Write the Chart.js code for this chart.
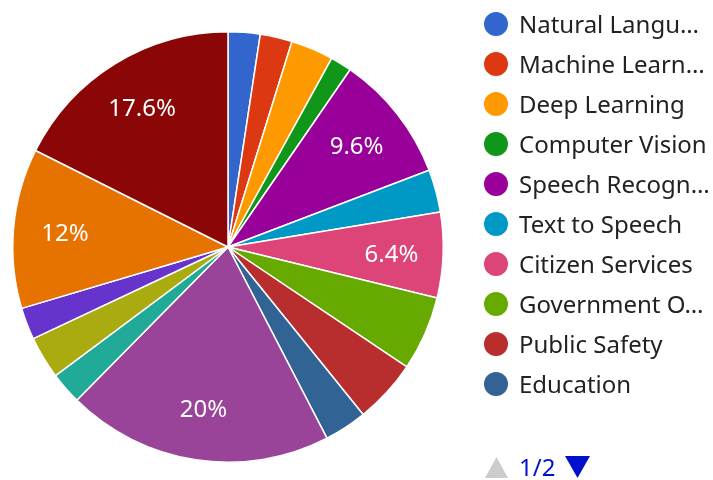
<!DOCTYPE html>
<html><head><meta charset="utf-8">
<script src="https://cdn.jsdelivr.net/npm/chart.js@4/dist/chart.umd.min.js"></script>
<style>html,body{margin:0;padding:0;background:#fff}</style>
</head><body>
<canvas id="c" width="713" height="480"></canvas>
<script>
const categories = ["Natural Language Processing","Machine Learning","Deep Learning","Computer Vision","Speech Recognition","Text to Speech","Citizen Services","Government Operations","Public Safety","Education","Healthcare","Transportation","Environment","Finance","Defense","Research"];
const values = [3,3,4,2,12,4,8,7,6,4,25,3,4,3,15,22];
const colors = ["#3366cc","#dc3912","#ff9900","#109618","#990099","#0099c6","#dd4477","#66aa00","#b82e2e","#316395","#994499","#22aa99","#aaaa11","#6633cc","#e67300","#8b0707"];
const legendPageText = "1/2";
const legendPerPage = 10;

const FONT = '"Noto Sans", "Open Sans", sans-serif';

function fmtPct(p){ let s = p.toFixed(1); if (s.endsWith('.0')) s = s.slice(0,-2); return s + '%'; }

const sliceLabels = {
  id: 'sliceLabels',
  afterDatasetsDraw(chart){
    const ctx = chart.ctx;
    const meta = chart.getDatasetMeta(0);
    const data = chart.data.datasets[0].data;
    const total = data.reduce((a,b)=>a+b,0);
    ctx.save();
    ctx.fillStyle = '#ffffff';
    ctx.font = '24px ' + FONT;
    ctx.textAlign = 'center';
    ctx.textBaseline = 'alphabetic';
    meta.data.forEach((arc,i)=>{
      const pct = data[i]/total*100;
      if (pct < 6) return;
      const p = arc.getProps(['x','y','startAngle','endAngle','outerRadius'], true);
      const mid = (p.startAngle + p.endAngle)/2;
      const r = p.outerRadius * 0.76;
      ctx.fillText(fmtPct(pct), p.x + Math.cos(mid)*r, p.y + Math.sin(mid)*r + 8.5);
    });
    ctx.restore();
  }
};

const customLegend = {
  id: 'customLegend',
  afterDraw(chart){
    const ctx = chart.ctx;
    const labels = chart.data.labels;
    const cols = chart.data.datasets[0].backgroundColor;
    ctx.save();
    ctx.font = '24px ' + FONT;
    ctx.textBaseline = 'alphabetic';
    ctx.textAlign = 'left';
    const tx = 519, maxW = 191.2;
    for (let i = 0; i < Math.min(legendPerPage, labels.length); i++){
      const y = 24 + 40*i;
      ctx.fillStyle = cols[i];
      ctx.beginPath(); ctx.arc(496, y, 12, 0, Math.PI*2); ctx.fill();
      let t = labels[i];
      if (ctx.measureText(t).width > maxW){
        while (t.length && ctx.measureText(t + '…').width > maxW) t = t.slice(0,-1);
        t = t.trimEnd() + '…';
      }
      ctx.fillStyle = '#222222';
      ctx.fillText(t, tx, y + 8.5);
    }
    // pagination
    const py = 467;
    ctx.fillStyle = '#cccccc';
    ctx.beginPath(); ctx.moveTo(485, py+11); ctx.lineTo(508, py+11); ctx.lineTo(496.5, py-10); ctx.closePath(); ctx.fill();
    ctx.fillStyle = '#0011cc';
    ctx.fillText(legendPageText, 519, py + 8.5);
    ctx.beginPath(); ctx.moveTo(565, py-11); ctx.lineTo(590, py-11); ctx.lineTo(577.5, py+11); ctx.closePath(); ctx.fill();
    ctx.restore();
  }
};

new Chart(document.getElementById('c'), {
  type: 'pie',
  data: { labels: categories, datasets: [{ data: values, backgroundColor: colors, borderColor: '#ffffff', borderWidth: 1.5 }] },
  options: {
    responsive: false,
    animation: false,
    layout: { padding: { left: 12, top: 31, right: 269, bottom: 17 } },
    plugins: { legend: { display: false }, tooltip: { enabled: false } }
  },
  plugins: [sliceLabels, customLegend]
});
</script>
</body></html>
